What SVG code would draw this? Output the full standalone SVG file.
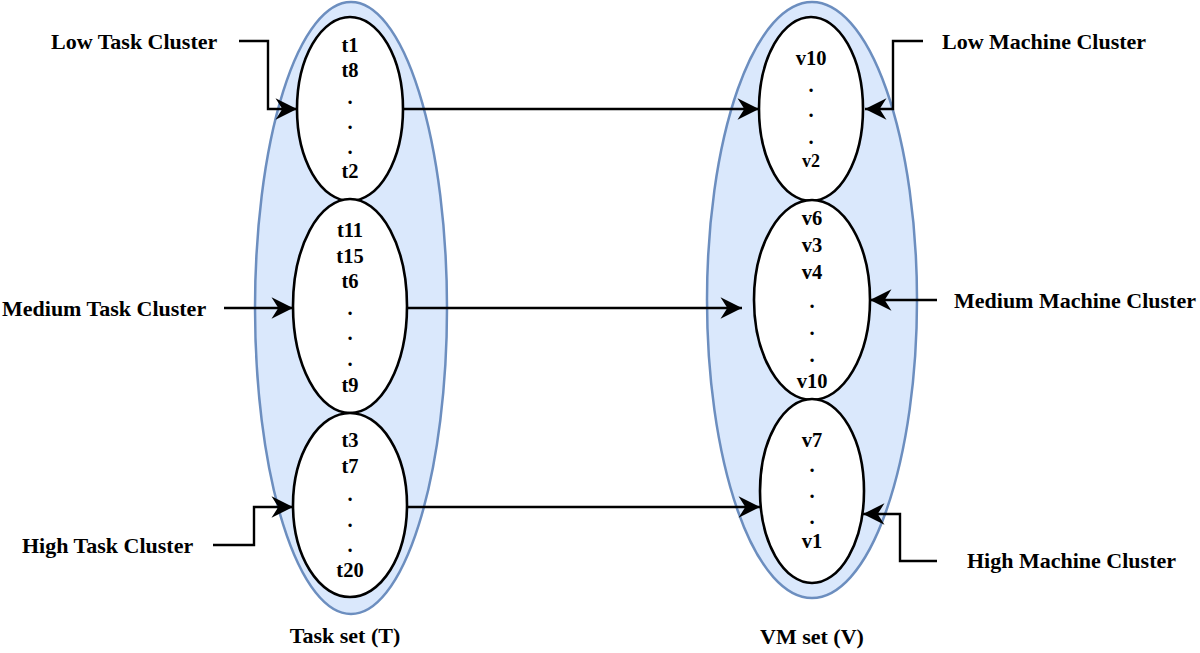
<svg xmlns="http://www.w3.org/2000/svg" width="1200" height="653" viewBox="0 0 1200 653">
<style>
  .set { fill: #dae8fc; stroke: #6c8ebf; stroke-width: 2.5; }
  .cl { fill: #ffffff; stroke: #000000; stroke-width: 2.6; }
  .conn { fill: none; stroke: #000000; stroke-width: 2.4; marker-end: url(#arr); }
  text { font-family: "Liberation Serif", "Times New Roman", serif; font-weight: bold; fill: #000000; }
  .lbl { font-size: 22px; }
  .item { font-size: 20.5px; text-anchor: middle; }
  .sm { font-size: 18px; }
</style>
<defs>
  <marker id="arr" markerUnits="userSpaceOnUse" markerWidth="26" markerHeight="26" viewBox="-21 -11 23 22" refX="0" refY="0" orient="auto">
    <path d="M0,0 L-19,-9.5 L-13,0 L-19,9.5 Z" fill="#000000"/>
  </marker>
</defs>
<rect width="1200" height="653" fill="#ffffff"/>

<g id="task-set">
  <ellipse class="set" cx="351" cy="308" rx="96" ry="306"/>
  <text class="lbl" x="345" y="643" text-anchor="middle">Task set (T)</text>
</g>
<g id="vm-set">
  <ellipse class="set" cx="812" cy="300" rx="105" ry="298"/>
  <text class="lbl" x="812" y="644" text-anchor="middle">VM set (V)</text>
</g>

<g id="low-task">
  <ellipse class="cl" cx="350" cy="109" rx="53" ry="92"/>
  <text class="item" x="350" y="52">t1</text>
  <text class="item" x="350" y="77">t8</text>
  <text class="item" x="350" y="104">.</text>
  <text class="item" x="350" y="129">.</text>
  <text class="item" x="350" y="154">.</text>
  <text class="item" x="350" y="178">t2</text>
</g>
<g id="medium-task">
  <ellipse class="cl" cx="350" cy="306" rx="57" ry="107"/>
  <text class="item" x="350" y="237">t11</text>
  <text class="item" x="350" y="263">t15</text>
  <text class="item" x="350" y="288">t6</text>
  <text class="item" x="350" y="315">.</text>
  <text class="item" x="350" y="340">.</text>
  <text class="item" x="350" y="366">.</text>
  <text class="item" x="350" y="392">t9</text>
</g>
<g id="high-task">
  <ellipse class="cl" cx="350" cy="505" rx="57" ry="92"/>
  <text class="item" x="350" y="447">t3</text>
  <text class="item" x="350" y="473">t7</text>
  <text class="item" x="350" y="501">.</text>
  <text class="item" x="350" y="527">.</text>
  <text class="item" x="350" y="552">.</text>
  <text class="item" x="350" y="577">t20</text>
</g>

<g id="low-machine">
  <ellipse class="cl" cx="811" cy="109" rx="52" ry="92"/>
  <text class="item" x="811" y="65">v10</text>
  <text class="item" x="811" y="92">.</text>
  <text class="item" x="811" y="117">.</text>
  <text class="item" x="811" y="144">.</text>
  <text class="item sm" x="811" y="167">v2</text>
</g>
<g id="medium-machine">
  <ellipse class="cl" cx="812" cy="300" rx="58" ry="100"/>
  <text class="item" x="812" y="225">v6</text>
  <text class="item" x="812" y="252">v3</text>
  <text class="item" x="812" y="279">v4</text>
  <text class="item" x="812" y="308">.</text>
  <text class="item" x="812" y="335">.</text>
  <text class="item" x="812" y="362">.</text>
  <text class="item" x="812" y="388">v10</text>
</g>
<g id="high-machine">
  <ellipse class="cl" cx="812" cy="491" rx="52" ry="92"/>
  <text class="item" x="812" y="447">v7</text>
  <text class="item" x="812" y="472">.</text>
  <text class="item" x="812" y="498">.</text>
  <text class="item" x="812" y="524">.</text>
  <text class="item" x="812" y="548">v1</text>
</g>

<g id="label-low-task"><text class="lbl" x="51" y="49">Low Task Cluster</text></g>
<g id="label-medium-task"><text class="lbl" x="2" y="316">Medium Task Cluster</text></g>
<g id="label-high-task"><text class="lbl" x="22" y="553">High Task Cluster</text></g>
<g id="label-low-machine"><text class="lbl" x="942" y="49">Low Machine Cluster</text></g>
<g id="label-medium-machine"><text class="lbl" x="954" y="308">Medium Machine Cluster</text></g>
<g id="label-high-machine"><text class="lbl" x="967" y="568">High Machine Cluster</text></g>

<g id="connectors">
  <path class="conn" d="M403,109 L759,109"/>
  <path class="conn" d="M407,308 L742,308"/>
  <path class="conn" d="M407,507 L760,507"/>
  <path class="conn" d="M239,41 L268,41 L268,109 L297,109"/>
  <path class="conn" d="M224,308 L293,308"/>
  <path class="conn" d="M213,545 L254,545 L254,507 L293,507"/>
  <path class="conn" d="M923,41 L893,41 L893,109 L865,109"/>
  <path class="conn" d="M937,300 L870,300"/>
  <path class="conn" d="M937,561 L900,561 L900,514 L863,514"/>
</g>
</svg>
